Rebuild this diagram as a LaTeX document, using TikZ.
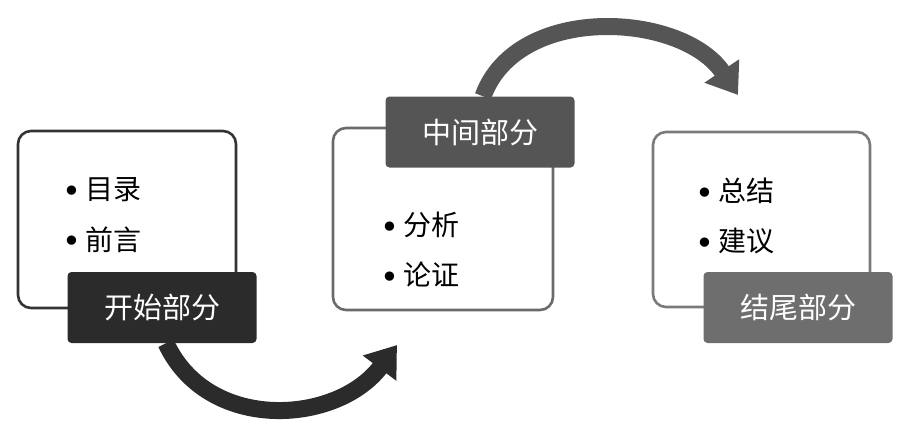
\documentclass[tikz,border=0pt]{standalone}
\usepackage{fontspec}
\setmainfont{Noto Sans CJK SC}
\newfontfamily\dotfont{DejaVu Sans}
\usetikzlibrary{positioning, arrows.meta}
\definecolor{shadeA}{HTML}{2B2B2B}
\definecolor{shadeB}{HTML}{555555}
\definecolor{shadeC}{HTML}{6E6E6E}
\definecolor{lineA}{HTML}{333333}
\definecolor{lineB}{HTML}{6A6A6A}
\definecolor{lineC}{HTML}{7A7A7A}
\newcommand{\dotitem}[1]{\raisebox{-2.5pt}{\dotfont\fontsize{32}{36}\selectfont •}\hspace{4pt}#1}

\begin{document}
\begin{tikzpicture}[
    x = 1pt, y = -1pt,
    part/.style = {
      rectangle, draw, line width = 2.6pt, rounded corners = 13pt,
      fill = white, inner sep = 0pt
    },
    title/.style = {
      rectangle, rounded corners = 4pt, text = white, inner sep = 0pt,
      minimum width = 189pt, minimum height = 71pt, font = \fontsize{29}{33}\selectfont
    },
    item/.style = {
      anchor = west, inner sep = 0pt, font = \fontsize{28}{32}\selectfont
    },
    flow/.style = {
      line width = 17pt, -{Triangle[length = 29pt, width = 40pt]}
    },
    ]

    \useasboundingbox (0,0) rectangle (909,431);

    % draw the three outer boxes
    \node  [part, draw = lineA, minimum width = 218pt, minimum height = 177pt]  (box1)  at (127,219.5)  {};
    \node  [part, draw = lineB, minimum width = 220pt, minimum height = 182pt]  (box2)  at (443,219)  {};
    \node  [part, draw = lineC, minimum width = 217pt, minimum height = 175pt]  (box3)  at (761.5,219.5)  {};

    % draw items
    \node  [item]  (i11)  at (62,190)  {\dotitem{目录}};
    \node  [item]  (i12)  [below = 24pt of i11.south west, anchor = north west]  {\dotitem{前言}};
    \node  [item]  (i21)  at (380,225)  {\dotitem{分析}};
    \node  [item]  (i22)  [below = 24pt of i21.south west, anchor = north west]  {\dotitem{论证}};
    \node  [item]  (i31)  at (695,191)  {\dotitem{总结}};
    \node  [item]  (i32)  [below = 24pt of i31.south west, anchor = north west]  {\dotitem{建议}};

    % draw titles
    \node  [title, fill = shadeA]  (lab1)  at (162,307.5)  {开始部分};
    \node  [title, fill = shadeB]  (lab2)  at (480,132)  {中间部分};
    \node  [title, fill = shadeC]  (lab3)  at (798,307.5)  {结尾部分};

    % draw arrows between parts
    \coordinate  (tip1)  at (397,345);
    \coordinate  (tip2)  at (738,95);
    \draw  [flow, draw = shadeA]  ([xshift = 4pt]lab1.south)  to [out = -65, in = 233, looseness = 1.1]  (tip1);
    \draw  [flow, draw = shadeB]  ([xshift = 3pt]lab2.north)  to [out = 70, in = 124]  (tip2);

\end{tikzpicture}
\end{document}
